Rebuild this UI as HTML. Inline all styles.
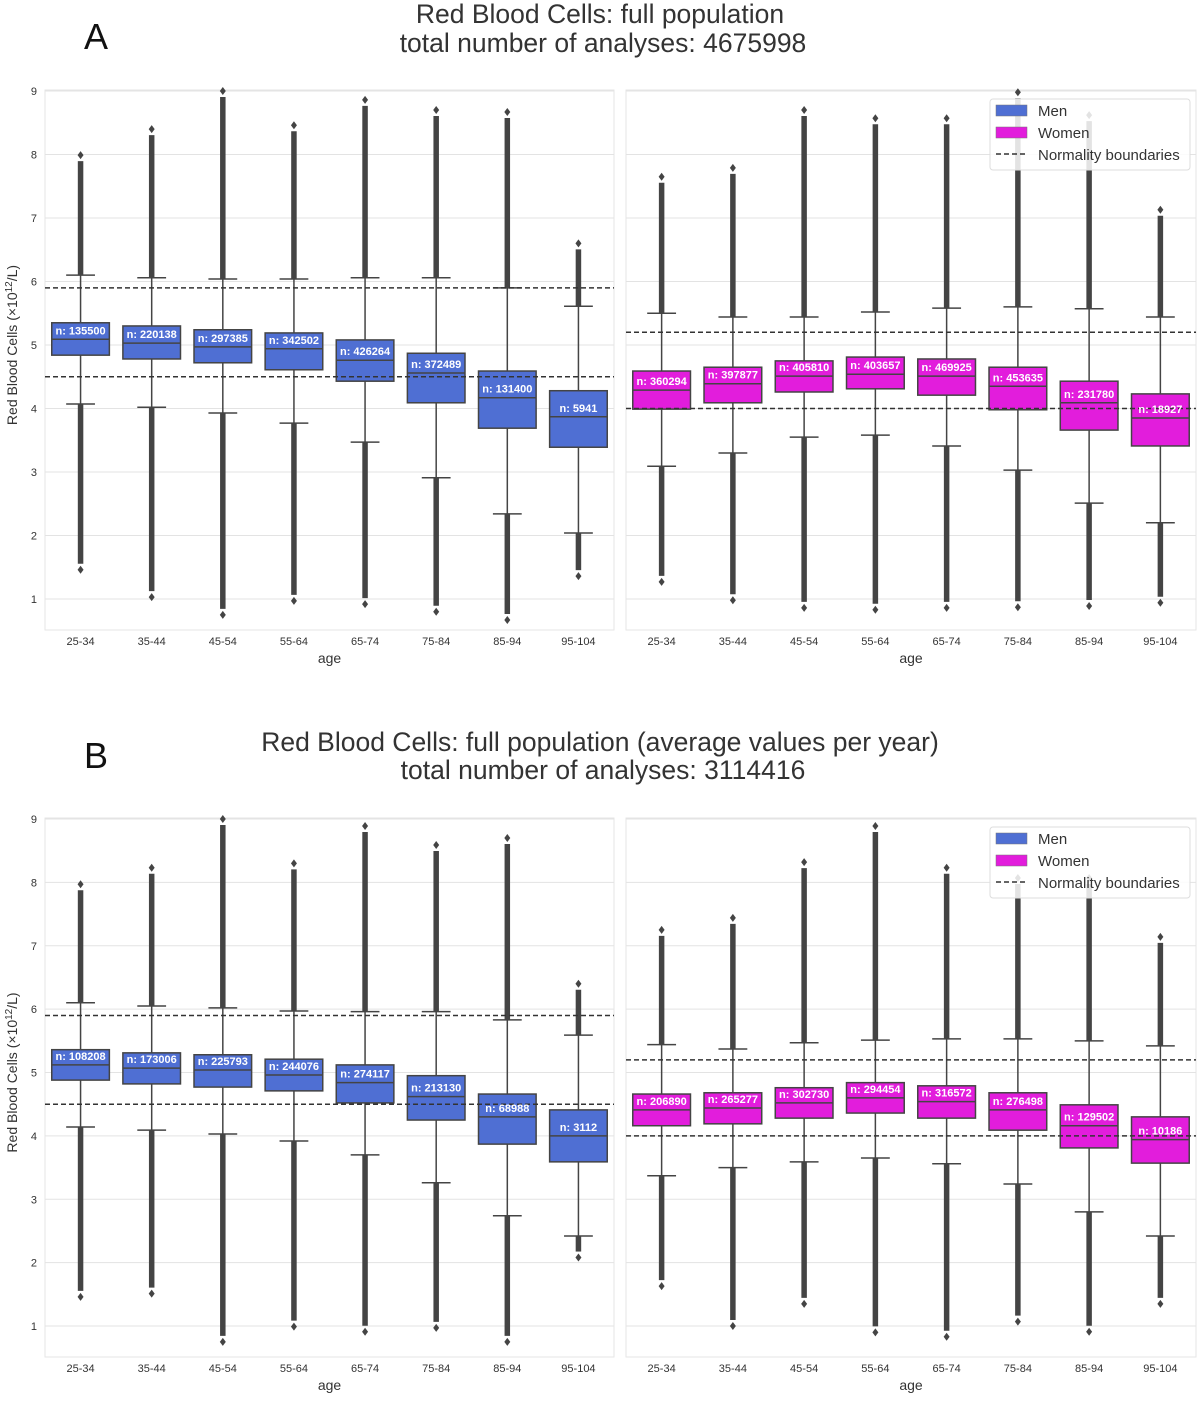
<!DOCTYPE html>
<html><head><meta charset="utf-8"><style>
body{margin:0;background:#fff}
svg text{font-family:"Liberation Sans",sans-serif}
</style></head><body>
<svg id="c" width="1200" height="1398" viewBox="0 0 1200 1398" xmlns="http://www.w3.org/2000/svg">
<text x="600" y="23" font-size="26.5" text-anchor="middle" fill="#333">Red Blood Cells: full population</text>
<text x="603" y="52" font-size="26.5" text-anchor="middle" fill="#333">total number of analyses: 4675998</text>
<text x="84" y="49" font-size="36" fill="#111">A</text>
<text x="600" y="751" font-size="26.5" text-anchor="middle" fill="#333">Red Blood Cells: full population (average values per year)</text>
<text x="603" y="779" font-size="26.5" text-anchor="middle" fill="#333">total number of analyses: 3114416</text>
<text x="84" y="768" font-size="36" fill="#111">B</text>
</svg>
<script>
const categories=["25-34","35-44","45-54","55-64","65-74","75-84","85-94","95-104"];
const yTicks=[1,2,3,4,5,6,7,8,9];
// [q1, median, q3, whiskerLow, whiskerHigh, min, max]
const menA=[[4.84,5.09,5.35,4.07,6.10,1.46,7.99],[4.78,5.03,5.30,4.02,6.06,1.03,8.4],[4.72,4.97,5.24,3.93,6.04,0.75,9.0],[4.61,4.94,5.19,3.77,6.04,0.97,8.46],[4.43,4.76,5.08,3.47,6.06,0.92,8.86],[4.09,4.56,4.87,2.91,6.06,0.80,8.7],[3.69,4.17,4.59,2.34,5.90,0.67,8.67],[3.39,3.87,4.28,2.04,5.61,1.36,6.6]];
const womenA=[[3.99,4.29,4.59,3.09,5.50,1.27,7.65],[4.09,4.39,4.65,3.30,5.44,0.98,7.79],[4.26,4.51,4.75,3.55,5.44,0.86,8.7],[4.31,4.54,4.81,3.58,5.52,0.83,8.57],[4.21,4.51,4.78,3.41,5.58,0.86,8.57],[3.98,4.35,4.65,3.03,5.60,0.87,8.98],[3.66,4.09,4.43,2.51,5.57,0.89,8.62],[3.41,3.85,4.23,2.20,5.44,0.94,7.13]];
const menB=[[4.88,5.12,5.36,4.14,6.10,1.46,7.97],[4.82,5.07,5.31,4.09,6.05,1.51,8.23],[4.77,5.04,5.28,4.03,6.02,0.75,9.0],[4.71,4.96,5.21,3.92,5.97,0.99,8.3],[4.52,4.84,5.12,3.70,5.96,0.91,8.89],[4.25,4.62,4.95,3.26,5.96,0.97,8.59],[3.87,4.30,4.66,2.74,5.83,0.75,8.7],[3.59,4.00,4.41,2.42,5.59,2.08,6.4]];
const womenB=[[4.16,4.41,4.66,3.37,5.44,1.63,7.25],[4.19,4.44,4.68,3.50,5.37,1.00,7.44],[4.28,4.52,4.76,3.59,5.47,1.35,8.32],[4.36,4.60,4.84,3.65,5.51,0.90,8.89],[4.28,4.54,4.79,3.56,5.53,0.83,8.23],[4.09,4.41,4.68,3.24,5.53,1.07,8.07],[3.81,4.16,4.49,2.80,5.50,0.91,8.07],[3.57,3.94,4.30,2.42,5.42,1.35,7.14]];
const countsMenA=[135500,220138,297385,342502,426264,372489,131400,5941];
const countsWomenA=[360294,397877,405810,403657,469925,453635,231780,18927];
const countsMenB=[108208,173006,225793,244076,274117,213130,68988,3112];
const countsWomenB=[206890,265277,302730,294454,316572,276498,129502,10186];
const menBounds=[4.5,5.9];
const womenBounds=[4.0,5.2];

const svg=document.getElementById('c');
const NS="http://www.w3.org/2000/svg";
function mk(tag,attrs,parent){const e=document.createElementNS(NS,tag);for(const k in attrs)e.setAttribute(k,attrs[k]);(parent||svg).appendChild(e);return e;}

function panel(x0,x1,yTop,yBot,y9,y1,data,counts,bounds,color,showY,legend,name){
  const g=mk('g',{});
  
  
  const ys=v=>y9+(9-v)*(y1-y9)/8;
  const step=(x1-x0)/categories.length;
  const xs=i=>x0+step*(i+0.5);
  const frame=mk('rect',{x:x0,y:yTop,width:x1-x0,height:yBot-yTop,fill:'#fff',stroke:'#e6e6e6','stroke-width':1},g);
  
  
  yTicks.forEach(t=>{
    const l=mk('line',{x1:x0,x2:x1,y1:ys(t),y2:ys(t),stroke:'#e3e3e3','stroke-width':1},g);
    
    
    if(showY){const tx=mk('text',{x:x0-8,y:ys(t)+4,'font-size':11,'text-anchor':'end',fill:'#333'},g);tx.textContent=t;
      
      }
  });
  const bw=step*0.81;
  data.forEach((d,i)=>{
    const [q1,med,q3,wl,wh,mn,mx]=d;const cx=xs(i);
    const bg=mk('g',{},g);
    
    
    mk('line',{x1:cx,x2:cx,y1:ys(wh),y2:ys(mx)+6,stroke:'#444','stroke-width':5.5},bg);
    mk('line',{x1:cx,x2:cx,y1:ys(wl),y2:ys(mn)-6,stroke:'#444','stroke-width':5.5},bg);
    [mx,mn].forEach(v=>mk('path',{d:`M${cx} ${ys(v)-4}L${cx+3} ${ys(v)}L${cx} ${ys(v)+4}L${cx-3} ${ys(v)}Z`,fill:'#444'},bg));
    mk('line',{x1:cx,x2:cx,y1:ys(wh),y2:ys(wl),stroke:'#444','stroke-width':1.5},bg);
    mk('line',{x1:cx-bw/4,x2:cx+bw/4,y1:ys(wh),y2:ys(wh),stroke:'#444','stroke-width':1.5},bg);
    mk('line',{x1:cx-bw/4,x2:cx+bw/4,y1:ys(wl),y2:ys(wl),stroke:'#444','stroke-width':1.5},bg);
    mk('rect',{x:cx-bw/2,y:ys(q3),width:bw,height:ys(q1)-ys(q3),fill:color,stroke:'#444','stroke-width':1.5},bg);
    mk('line',{x1:cx-bw/2,x2:cx+bw/2,y1:ys(med),y2:ys(med),stroke:'#444','stroke-width':1.5},bg);
  });
  bounds.forEach(b=>{
    const l=mk('line',{x1:x0,x2:x1,y1:ys(b),y2:ys(b),stroke:'#333','stroke-width':1.5,'stroke-dasharray':'5,3'},g);
    
    
  });
  data.forEach((d,i)=>{
    const t=mk('text',{x:xs(i),y:ys(d[1])-5,'font-size':11,'font-weight':'bold','text-anchor':'middle',fill:'#fff'},g);
    t.textContent='n: '+counts[i];
    
    
  });
  categories.forEach((c,i)=>{
    const t=mk('text',{x:xs(i),y:yBot+15,'font-size':11,'text-anchor':'middle',fill:'#333'},g);
    t.textContent=c;
    
    
  });
  const ax=mk('text',{x:(x0+x1)/2,y:yBot+33,'font-size':14,'text-anchor':'middle',fill:'#333'},g);
  ax.textContent='age';
  
  
  if(showY){
    const cy=ys(5);
    const t=mk('text',{transform:`translate(17,${cy}) rotate(-90)`,'font-size':14,'text-anchor':'middle',fill:'#333'},g);
    t.innerHTML='Red Blood Cells (×10<tspan dy="-5" font-size="10">12</tspan><tspan dy="5">/L)</tspan>';
    
    
  }
  if(legend){
    const lg=mk('g',{},g);
    
    
    const lx=990,ly=yTop+9;
    mk('rect',{x:lx,y:ly,width:200,height:71,rx:3,fill:'#fff','fill-opacity':0.85,stroke:'#ddd'},lg);
    [['Men','#4f6fd3'],['Women','#e21ddc']].forEach((e,k)=>{
      mk('rect',{x:lx+6,y:ly+6+k*22,width:31,height:11,fill:e[1],stroke:'#777','stroke-width':0.5},lg);
      const t=mk('text',{x:lx+48,y:ly+17+k*22,'font-size':15,fill:'#333'},lg);t.textContent=e[0];
      
      
    });
    mk('line',{x1:lx+6,x2:lx+37,y1:ly+55,y2:ly+55,stroke:'#333','stroke-width':1.5,'stroke-dasharray':'5,3'},lg);
    const t=mk('text',{x:lx+48,y:ly+61,'font-size':15,fill:'#333'},lg);t.textContent='Normality boundaries';
    
    
  }
}
const MEN='#4f6fd3',WOMEN='#e21ddc';
panel(45,614,90,630,91,599,menA,countsMenA,menBounds,MEN,true,false,'panel-a-men');
panel(626,1196,90,630,91,599,womenA,countsWomenA,womenBounds,WOMEN,false,true,'panel-a-women');
panel(45,614,818,1357,819,1326,menB,countsMenB,menBounds,MEN,true,false,'panel-b-men');
panel(626,1196,818,1357,819,1326,womenB,countsWomenB,womenBounds,WOMEN,false,true,'panel-b-women');
</script>
</body></html>
